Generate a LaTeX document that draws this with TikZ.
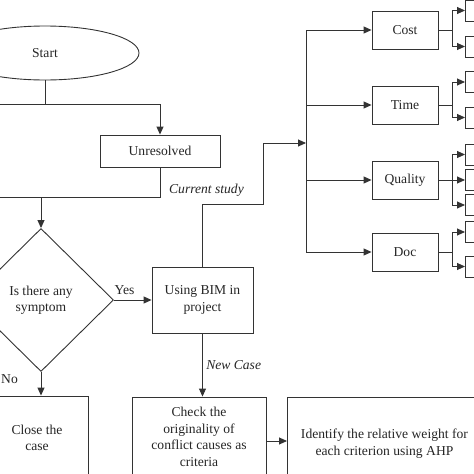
\documentclass[tikz,border=0pt]{standalone}
\usepackage{fontspec}
\setmainfont{Liberation Serif}
\usetikzlibrary{shapes.geometric,arrows.meta}
\begin{document}
\begin{tikzpicture}[x=1pt,y=-1pt,
  every node/.style={font=\fontsize{13.6}{16.5}\selectfont, text=black!85},
  box/.style={draw=black!80, line width=0.9pt, rectangle, inner sep=0pt, align=center},
  smallbox/.style={box, minimum width=30, minimum height=21, anchor=west},
  line/.style={draw=black!80, line width=0.9pt},
  arr/.style={line, -{Triangle[length=8pt,width=7pt]}},
  lbl/.style={font=\fontsize{13.6}{16.5}\selectfont\itshape}]
\useasboundingbox (0,0) rectangle (474,474);
\fill[white] (0,0) rectangle (474,474);
\clip (0,0) rectangle (474,474);

% main nodes
\node[ellipse, draw=black!80, line width=0.9pt, minimum width=188, minimum height=54, inner sep=0pt] (start) at (45,53) {Start};
\node[box, minimum width=120, minimum height=32] (unres) at (160,151) {Unresolved};
\node[diamond, draw=black!80, line width=0.9pt, minimum width=145, minimum height=143, inner sep=0pt, align=center] (diam) at (41,300) {Is there any\\symptom};
\node[box, minimum width=101, minimum height=66] (bim) at (202.5,300) {Using BIM in\\project};
\node[box, minimum width=102, minimum height=84] (close) at (37,438) {Close the\\case};
\node[box, minimum width=134, minimum height=80] (check) at (199,437) {Check the\\originality of\\conflict causes as\\criteria};
\node[box, minimum width=194, minimum height=92, anchor=north west] (ident) at (287,397) {Identify the relative weight for\\each criterion using AHP};

% criteria
\node[box, minimum width=66, minimum height=38] (cost) at (405,30) {Cost};
\node[box, minimum width=66, minimum height=38] (time) at (405,105) {Time};
\node[box, minimum width=66, minimum height=38] (qual) at (405,180) {Quality};
\node[box, minimum width=66, minimum height=38] (doc) at (405,252) {Doc};

% sub-criteria (cut at the right edge)
\node[smallbox] (c1) at (465,10.5) {};
\node[smallbox] (c2) at (465,46.5) {};
\node[smallbox] (t1) at (465,82) {};
\node[smallbox] (t2) at (465,117.5) {};
\node[smallbox] (q1) at (465,154.5) {};
\node[smallbox] (q2) at (465,180) {};
\node[smallbox] (q3) at (465,205) {};
\node[smallbox] (d1) at (465,232) {};
\node[smallbox] (d2) at (465,266.5) {};

% labels
\node[lbl] (cur) at (206.5,190) {Current study};
\node[anchor=west, inner sep=0pt] (no) at (1,379) {No};

% coordinates
\coordinate (L1) at (-5,104);
\coordinate (J1) at (45,104);
\coordinate (L2) at (-5,197);
\coordinate (K1) at (263,204);
\coordinate (B) at (306,143);
\coordinate (BT) at (306,30);
\coordinate (BB) at (306,252);
\coordinate (cs) at (452,30);
\coordinate (ts) at (452,105);
\coordinate (qs) at (452,180);
\coordinate (ds) at (452,252);

% connectors
\draw[line] (start.south) -- (J1);
\draw[arr] (L1) -| (unres.north);
\draw[line] (unres.south) |- (L2);
\draw[arr] (diam.north |- L2) -- (diam.north);
\draw[arr] (diam.south) -- (diam.south |- close.north);
\draw[arr] (diam.east) -- node[above, pos=0.28, yshift=2pt] (yes) {Yes} (bim.west);
\draw[arr] (bim.south) -- node[right, lbl] (nc) {New Case} (bim.south |- check.north);
\draw[arr] ([yshift=-4pt]check.east) -- ([yshift=-4pt]check.east -| ident.west);

\draw[arr] (bim.north) |- (K1) |- (B);
\draw[line] (BT) -- (BB);
\draw[arr] (BT) -- (cost.west);
\draw[arr] (B |- time.west) -- (time.west);
\draw[arr] (B |- qual.west) -- (qual.west);
\draw[arr] (BB) -- (doc.west);

\draw[line] (cost.east) -- (cs);
\draw[arr] (cs) |- (c1.west);
\draw[arr] (cs) |- (c2.west);
\draw[line] (time.east) -- (ts);
\draw[arr] (ts) |- (t1.west);
\draw[arr] (ts) |- (t2.west);
\draw[arr] (qual.east) -- (q2.west);
\draw[arr] (qs) |- (q1.west);
\draw[arr] (qs) |- (q3.west);
\draw[line] (doc.east) -- (ds);
\draw[arr] (ds) |- (d1.west);
\draw[arr] (ds) |- (d2.west);
\end{tikzpicture}
\end{document}
